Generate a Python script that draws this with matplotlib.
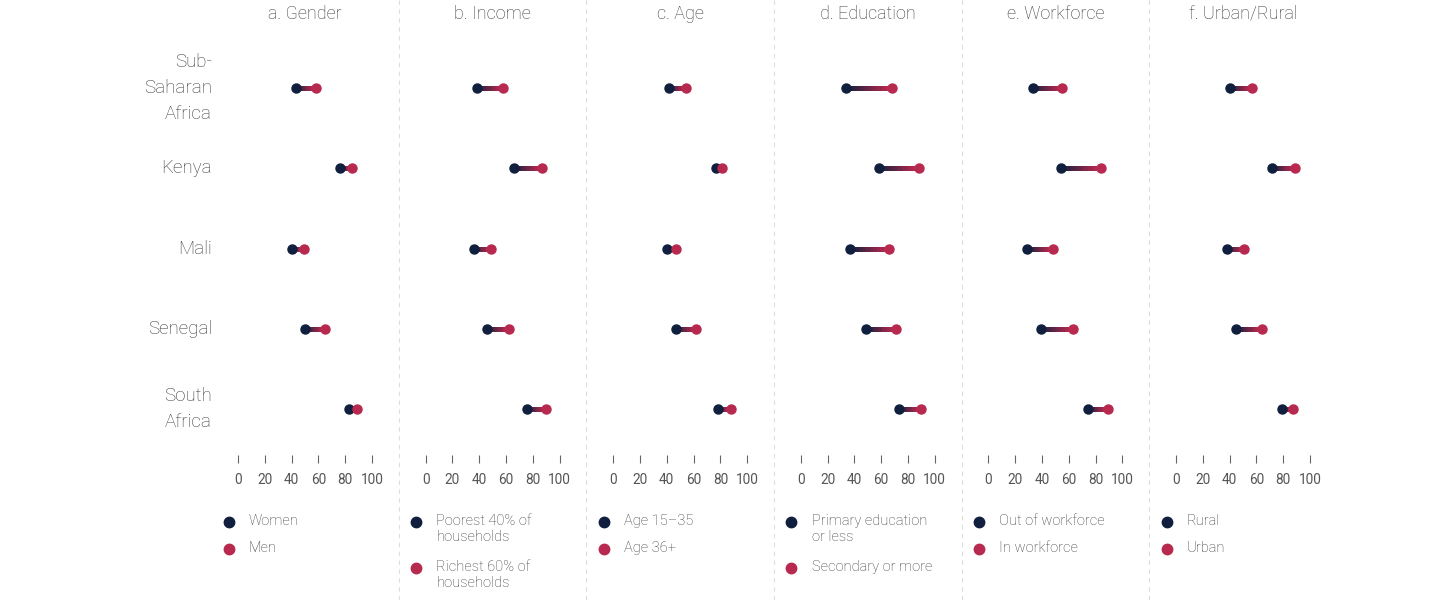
import matplotlib
matplotlib.use('Agg')
import matplotlib.pyplot as plt
import numpy as np
from matplotlib.collections import LineCollection
from matplotlib.colors import LinearSegmentedColormap
from matplotlib.lines import Line2D
import matplotlib.transforms as mtransforms

plt.rcParams['font.family'] = ['Roboto', 'DejaVu Sans']

countries = ['Sub-\nSaharan\nAfrica', 'Kenya', 'Mali', 'Senegal', 'South\nAfrica']
titles = ['a. Gender', 'b. Income', 'c. Age', 'd. Education', 'e. Workforce', 'f. Urban/Rural']
low_labels = ['Women', 'Poorest 40% of\nhouseholds', 'Age 15\u201335',
              'Primary education\nor less', 'Out of workforce', 'Rural']
high_labels = ['Men', 'Richest 60% of\nhouseholds', 'Age 36+',
               'Secondary or more', 'In workforce', 'Urban']

gender_women = [43, 76, 40, 50, 83]
gender_men = [58, 85, 49, 65, 89]
income_poor = [38, 66, 36, 46, 76]
income_rich = [58, 87, 49, 62, 90]
age_young = [42, 77, 40, 47, 78]
age_old = [54, 81, 47, 62, 88]
edu_primary = [34, 58, 37, 49, 73]
edu_secondary = [68, 88, 66, 71, 90]
work_out = [33, 54, 29, 39, 74]
work_in = [55, 84, 48, 63, 89]
rural = [40, 72, 38, 45, 79]
urban = [57, 89, 51, 64, 87]

lows = [gender_women, income_poor, age_young, edu_primary, work_out, rural]
highs = [gender_men, income_rich, age_old, edu_secondary, work_in, urban]
ticks = [0, 20, 40, 60, 80, 100]

NAVY = '#0f1f3d'
RED = '#b8294f'
GREY = '#3a3a3a'
cmap = LinearSegmentedColormap.from_list('nr', [NAVY, RED])

W, H = 1440, 600
fig = plt.figure(figsize=(14.4, 6), dpi=100)

left0 = 211.2
pw = 187.6
top, bottom = 40, 455

for i in range(6):
    ax = fig.add_axes([(left0 + i * pw) / W, 1 - bottom / H, pw / W, (bottom - top) / H])
    ax.set_xlim(-20, 120)
    ax.set_ylim(4.573, -0.598)
    for s in ax.spines.values():
        s.set_visible(False)
    ax.set_yticks([])
    ax.set_xticks(ticks)
    ax.tick_params(axis='x', length=6, width=0.8, color='#666666', pad=7,
                   labelsize=9.8, labelcolor='#555555')

    for j in range(len(countries)):
        x0, x1 = lows[i][j], highs[i][j]
        # base line in the middle colour, gradient on top
        ax.plot([x0, x1], [j, j], color=cmap(0.5), lw=2.2, solid_capstyle='butt')
        xs = np.linspace(x0, x1, 12)
        pts = np.array([xs, np.full_like(xs, j)]).T.reshape(-1, 1, 2)
        segs = np.concatenate([pts[:-1], pts[1:]], axis=1)
        lc = LineCollection(segs, colors=cmap(np.linspace(0, 1, len(segs))),
                            linewidths=2.2, capstyle='projecting', antialiaseds=False)
        ax.add_collection(lc)
    ax.plot(lows[i], range(len(countries)), 'o', color=NAVY, ms=6.5, zorder=3)
    ax.plot(highs[i], range(len(countries)), 'o', color=RED, ms=6.5, zorder=3)

    # title
    tr = mtransforms.blended_transform_factory(ax.transData, fig.transFigure)
    ax.text(50, 1 - 14 / H, titles[i], transform=tr, ha='center', va='center',
            fontsize=13, color=GREY, fontweight='light')

    # legend
    y = 522
    for lab, col in [(low_labels[i], NAVY), (high_labels[i], RED)]:
        ax.plot([-7], [1 - y / H], 'o', color=col, ms=7.5, transform=tr, clip_on=False)
        ax.text(8, 1 - (y - 8) / H, lab, transform=tr, ha='left', va='top',
                fontsize=10.5, color=GREY, linespacing=1.2, fontweight='light')
        y += 27 + 19 * lab.count('\n')

    if i == 0:
        for j, c in enumerate(countries):
            ax.text(-19.4, j, c, ha='right', va='center', fontsize=13.5,
                    color=GREY, linespacing=1.6, fontweight='light')

    if i < 5:
        xr = (left0 + (i + 1) * pw) / W
        fig.add_artist(Line2D([xr, xr], [0, 1], transform=fig.transFigure,
                              color='#dddddd', lw=0.8, ls=(0, (4, 4))))

fig.savefig('out.png', dpi=100, facecolor='white')
